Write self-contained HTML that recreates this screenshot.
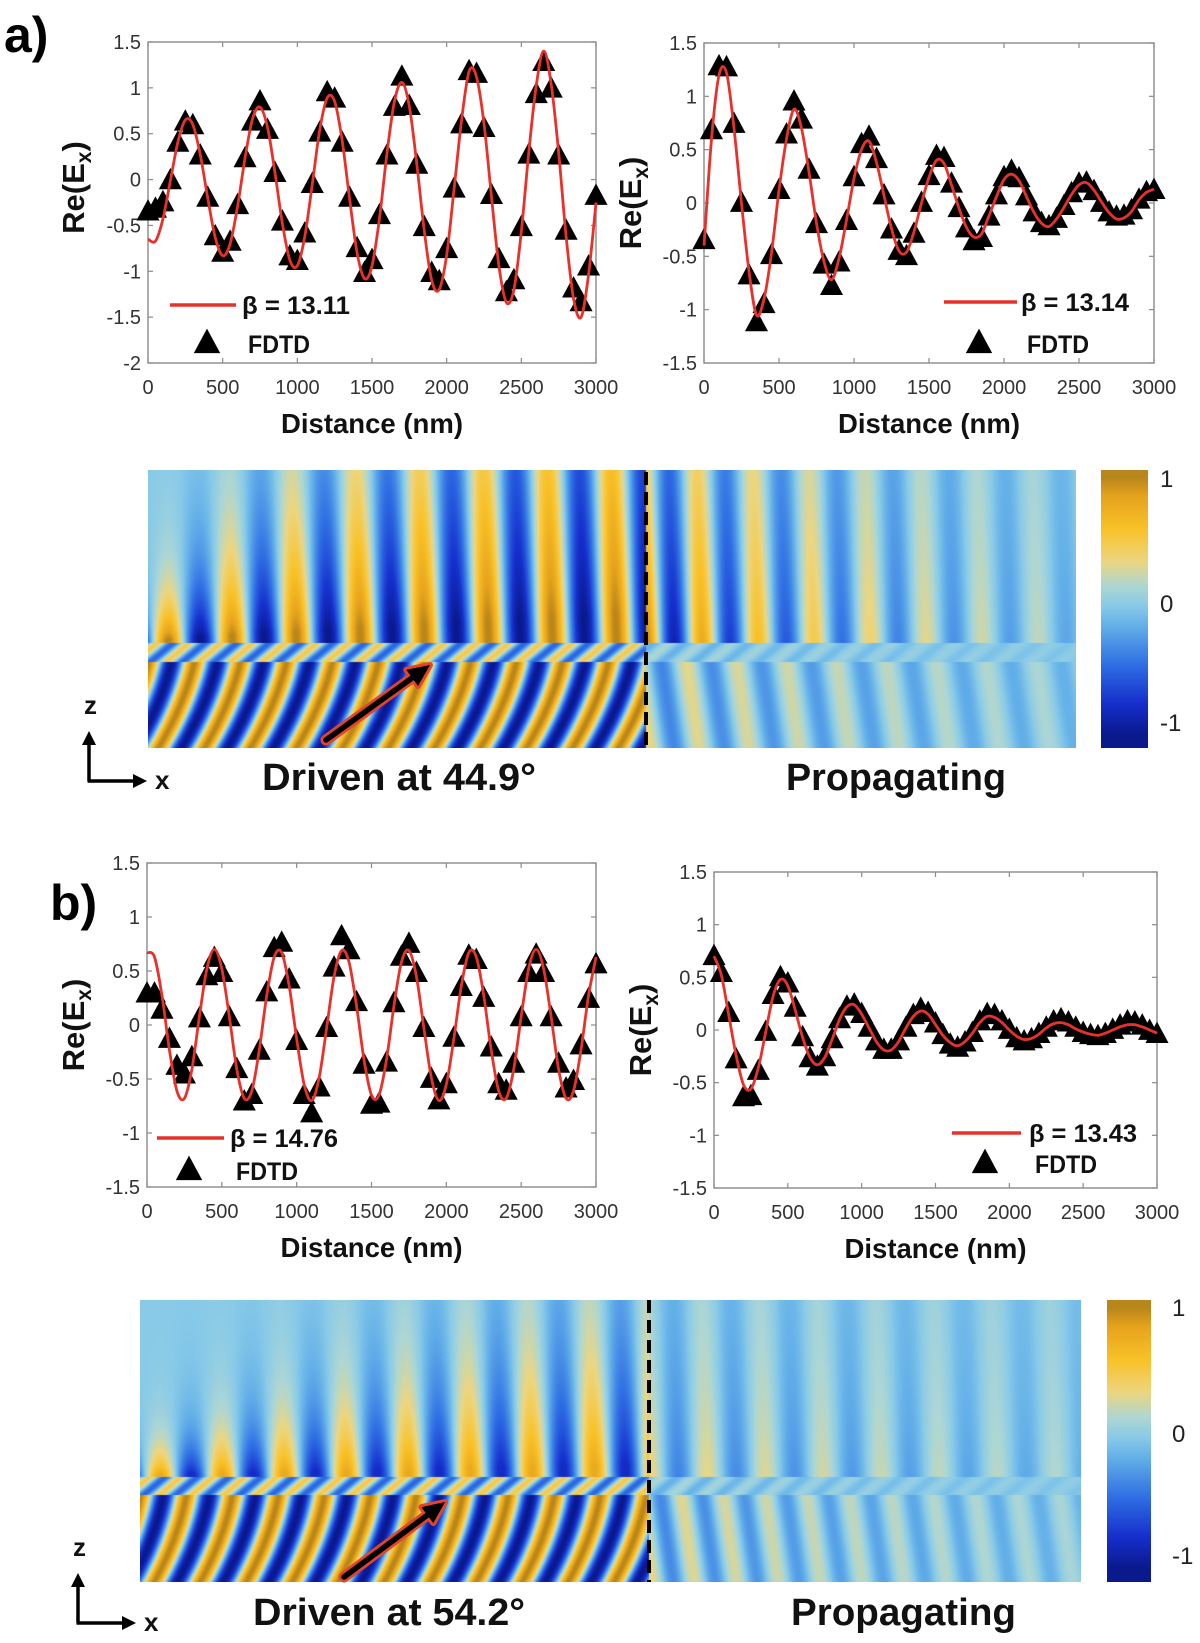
<!DOCTYPE html>
<html><head><meta charset="utf-8"><title>Re(Ex) fits and field maps</title>
<style>
html,body{margin:0;padding:0;background:#fff;}
#stage{position:relative;width:1200px;height:1643px;overflow:hidden;background:#fff;}
canvas{position:absolute;}
svg{position:absolute;left:0;top:0;}
</style></head>
<body>
<div id="stage">
<canvas id="heatA" style="left:148px;top:470px" width="928" height="278"></canvas>
<canvas id="cbarA" style="left:1101px;top:470px" width="47" height="278"></canvas>
<canvas id="heatB" style="left:140px;top:1300px" width="941" height="282"></canvas>
<canvas id="cbarB" style="left:1107px;top:1300px" width="44" height="282"></canvas>
<svg id="svg" width="1200" height="1643" xmlns="http://www.w3.org/2000/svg">
 <text x="4" y="52" font-family="Liberation Sans Narrow, Liberation Sans, sans-serif" font-weight="bold" font-size="50">a)</text>
 <text x="50" y="920" font-family="Liberation Sans Narrow, Liberation Sans, sans-serif" font-weight="bold" font-size="50">b)</text>
</svg>
</div>
<script>
// ---------- shared data ----------
const distances = [0,50,100,150,200,250,300,350,400,450,500,550,600,650,700,750,800,850,900,950,1000,1050,1100,1150,1200,1250,1300,1350,1400,1450,1500,1550,1600,1650,1700,1750,1800,1850,1900,1950,2000,2050,2100,2150,2200,2250,2300,2350,2400,2450,2500,2550,2600,2650,2700,2750,2800,2850,2900,2950,3000];
const xTickValues = [0,500,1000,1500,2000,2500,3000];
const xTickLabels = ['0','500','1000','1500','2000','2500','3000'];
const yTickValuesA = [1.5,1,0.5,0,-0.5,-1,-1.5,-2];
const yTickLabelsA = ['1.5','1','0.5','0','-0.5','-1','-1.5','-2'];
const yTickValuesB = [1.5,1,0.5,0,-0.5,-1,-1.5];
const yTickLabelsB = ['1.5','1','0.5','0','-0.5','-1','-1.5'];

const aLeftFit = [-0.65,-0.67,-0.43,-0.01,0.41,0.65,0.60,0.27,-0.20,-0.63,
 -0.83,-0.70,-0.29,0.24,0.66,0.79,0.57,0.08,-0.48,-0.88,
 -0.94,-0.62,-0.05,0.54,0.89,0.85,0.43,-0.21,-0.80,-1.08,
 -0.94,-0.42,0.28,0.85,1.06,0.80,0.17,-0.56,-1.10,-1.20,
 -0.82,-0.10,0.65,1.18,1.12,0.61,-0.19,-0.94,-1.34,-1.20,
 -0.57,0.30,1.03,1.40,1.04,0.29,-0.62,-1.30,-1.50,-1.04,-0.25];
const aLeftFdtd = [-0.35,-0.32,-0.25,-0.01,0.40,0.63,0.59,0.26,-0.20,-0.62,
 -0.80,-0.68,-0.28,0.23,0.63,0.85,0.54,0.07,-0.46,-0.84,
 -0.89,-0.59,-0.05,0.51,0.95,0.88,0.40,-0.20,-0.75,-1.02,
 -0.88,-0.39,0.26,0.79,1.12,0.80,0.16,-0.52,-1.02,-1.11,
 -0.76,-0.10,0.60,1.18,1.15,0.56,-0.17,-0.87,-1.23,-1.10,
 -0.52,0.27,0.93,1.28,0.99,0.26,-0.56,-1.19,-1.34,-0.95,-0.18];
const aRightFit = [-0.40,0.60,1.20,1.22,0.70,0.00,-0.64,-1.05,-0.90,-0.47,
 0.12,0.60,0.88,0.70,0.29,-0.19,-0.55,-0.72,-0.52,-0.16,
 0.23,0.50,0.58,0.38,0.07,-0.24,-0.45,-0.46,-0.27,0.00,
 0.24,0.40,0.37,0.17,-0.05,-0.23,-0.32,-0.29,-0.12,0.06,
 0.22,0.27,0.21,0.06,-0.09,-0.19,-0.22,-0.15,-0.04,0.08,
 0.17,0.19,0.12,0.01,-0.09,-0.15,-0.14,-0.08,0.03,0.10,0.13];
const aRightFdtd = [-0.35,0.68,1.28,1.27,0.74,0.00,-0.68,-1.12,-0.95,-0.49,
 0.12,0.64,0.95,0.78,0.31,-0.20,-0.58,-0.78,-0.56,-0.17,
 0.24,0.55,0.62,0.41,0.07,-0.25,-0.45,-0.50,-0.29,0.00,
 0.25,0.44,0.42,0.18,-0.05,-0.24,-0.36,-0.33,-0.13,0.07,
 0.24,0.30,0.23,0.06,-0.09,-0.19,-0.22,-0.15,-0.03,0.09,
 0.18,0.19,0.11,0.00,-0.09,-0.13,-0.12,-0.07,0.03,0.10,0.12];
const bLeftFit = [0.67,0.63,0.27,-0.23,-0.61,-0.68,-0.41,0.08,0.52,0.70,
 0.52,0.08,-0.41,-0.68,-0.61,-0.23,0.27,0.63,0.67,0.36,
 -0.13,-0.55,-0.70,-0.49,-0.03,0.45,0.69,0.58,0.18,-0.32,
 -0.65,-0.65,-0.32,0.18,0.58,0.69,0.45,-0.03,-0.49,-0.70,
 -0.55,-0.13,0.36,0.67,0.63,0.27,-0.23,-0.61,-0.68,-0.41,
 0.08,0.52,0.70,0.52,0.08,-0.41,-0.68,-0.61,-0.23,0.27,0.63];
const bLeftFdtd = [0.29,0.29,0.14,-0.13,-0.38,-0.46,-0.30,0.06,0.45,0.62,
 0.48,0.07,-0.41,-0.71,-0.65,-0.24,0.30,0.71,0.76,0.42,
 -0.15,-0.65,-0.82,-0.58,-0.03,0.53,0.82,0.69,0.21,-0.37,
 -0.74,-0.73,-0.35,0.20,0.63,0.75,0.48,-0.03,-0.50,-0.70,
 -0.55,-0.12,0.35,0.64,0.60,0.25,-0.21,-0.55,-0.61,-0.36,
 0.07,0.48,0.65,0.48,0.07,-0.36,-0.59,-0.52,-0.19,0.24,0.56];
const bRightFit = [0.70,0.52,0.14,-0.24,-0.52,-0.56,-0.36,-0.02,0.32,0.48,
 0.42,0.19,-0.07,-0.26,-0.33,-0.26,-0.09,0.10,0.22,0.24,
 0.15,0.02,-0.11,-0.19,-0.19,-0.11,0.02,0.13,0.18,0.15,
 0.05,-0.05,-0.12,-0.15,-0.11,-0.03,0.07,0.13,0.12,0.07,
 0.00,-0.06,-0.09,-0.08,-0.04,0.02,0.06,0.07,0.05,0.01,
 -0.02,-0.04,-0.05,-0.03,0.00,0.03,0.05,0.05,0.03,0.00,-0.03];
const bRightFdtd = [0.70,0.54,0.16,-0.28,-0.64,-0.63,-0.39,-0.02,0.33,0.50,
 0.44,0.21,-0.07,-0.27,-0.35,-0.26,-0.09,0.10,0.22,0.24,
 0.15,0.02,-0.11,-0.19,-0.19,-0.11,0.02,0.14,0.20,0.16,
 0.06,-0.05,-0.14,-0.17,-0.12,-0.03,0.08,0.15,0.14,0.08,
 0.00,-0.08,-0.11,-0.09,-0.04,0.02,0.08,0.10,0.07,0.02,
 -0.03,-0.05,-0.06,-0.04,0.00,0.04,0.08,0.07,0.04,-0.01,-0.04];

// heatmap parameters (stripe periods in px, region amplitudes)
const heatAPeriods = [64,56,46,50];
const heatAAmps = [1.0,0.95,1.0,0.32];
const heatBPeriods = [62,58,46,42];
const heatBAmps = [0.8,0.35,1.0,0.3];

const NS='http://www.w3.org/2000/svg';
const svg=document.getElementById('svg');
function mk(tag,attrs,parent){const e=document.createElementNS(NS,tag);for(const k in attrs)e.setAttribute(k,attrs[k]);(parent||svg).appendChild(e);return e;}
const NARROW='Liberation Sans Narrow, Liberation Sans, sans-serif';

function smoothPath(pts){
  let d='M'+pts[0][0].toFixed(1)+','+pts[0][1].toFixed(1);
  for(let i=0;i<pts.length-1;i++){
    const p0=pts[Math.max(0,i-1)],p1=pts[i],p2=pts[i+1],p3=pts[Math.min(pts.length-1,i+2)];
    const c1x=p1[0]+(p2[0]-p0[0])/6,c1y=p1[1]+(p2[1]-p0[1])/6;
    const c2x=p2[0]-(p3[0]-p1[0])/6,c2y=p2[1]-(p3[1]-p1[1])/6;
    d+=' C'+c1x.toFixed(1)+','+c1y.toFixed(1)+' '+c2x.toFixed(1)+','+c2y.toFixed(1)+' '+p2[0].toFixed(1)+','+p2[1].toFixed(1);
  }
  return d;
}
function tri(g,cx,cy,s){return mk('polygon',{points:`${cx},${cy-s*0.6} ${cx-s*0.55},${cy+s*0.42} ${cx+s*0.55},${cy+s*0.42}`,fill:'#000'},g);}

function plot(c){
  const g=mk('g',{});
  
  
  const sx=v=>c.x0+(v-0)/(3000-0)*(c.x1-c.x0);
  const sy=v=>c.yBot-(v-c.yMin)/(c.yMax-c.yMin)*(c.yBot-c.yTop);
  const box=mk('rect',{x:c.x0,y:c.yTop,width:c.x1-c.x0,height:c.yBot-c.yTop,fill:'#fff',stroke:'#8a8a8a','stroke-width':1.4},g);
  
  
  xTickValues.forEach((v,i)=>{
    const x=sx(v);
    mk('line',{x1:x,y1:c.yBot,x2:x,y2:c.yBot-5,stroke:'#8a8a8a','stroke-width':1.2},g);
    mk('line',{x1:x,y1:c.yTop,x2:x,y2:c.yTop+5,stroke:'#8a8a8a','stroke-width':1.2},g);
    const t=mk('text',{x:x,y:c.yBot+31,'text-anchor':'middle','font-family':'Liberation Sans, sans-serif','font-size':20,fill:'#333'},g);
    t.textContent=xTickLabels[i];
    
    
  });
  c.yTicks.forEach((v,i)=>{
    const y=sy(v);
    mk('line',{x1:c.x0,y1:y,x2:c.x0+5,y2:y,stroke:'#8a8a8a','stroke-width':1.2},g);
    mk('line',{x1:c.x1,y1:y,x2:c.x1-5,y2:y,stroke:'#8a8a8a','stroke-width':1.2},g);
    const t=mk('text',{x:c.x0-7,y:y+7,'text-anchor':'end','font-family':'Liberation Sans, sans-serif','font-size':20,fill:'#333'},g);
    t.textContent=c.yLabels[i];
    
    
  });
  const mg=mk('g',{},g);
  
  
  distances.forEach((d,i)=>{
    const p=tri(mg,sx(d),sy(c.fdtd[i]),21);
    
    
  });
  const pts=distances.map((d,i)=>[sx(d),sy(c.fit[i])]);
  const line=mk('path',{d:smoothPath(pts),fill:'none',stroke:'#e8312a','stroke-width':2.8},g);
  
  
  const xt=mk('text',{x:(c.x0+c.x1)/2,y:c.yBot+70,'text-anchor':'middle','font-family':NARROW,'font-weight':'bold','font-size':28,fill:'#111',textLength:182,lengthAdjust:'spacingAndGlyphs'},g);
  xt.textContent='Distance (nm)';
  
  
  const yc=(c.yTop+c.yBot)/2-(c.yLabelShift||0);
  const yt=mk('text',{x:0,y:0,'text-anchor':'middle','font-family':NARROW,'font-weight':'bold','font-size':31,fill:'#111',transform:`translate(${c.ylx+11},${yc}) rotate(-90)`},g);
  
  
  const t1=mk('tspan',{},yt);t1.textContent='Re(E';
  const t2=mk('tspan',{'font-size':21,dy:7},yt);t2.textContent='x';
  const t3=mk('tspan',{dy:-7},yt);t3.textContent=')';
  const lg=mk('g',{},g);
  
  
  mk('line',{x1:c.lx1,y1:c.ly1,x2:c.lx2,y2:c.ly1,stroke:'#e8312a','stroke-width':3.5},lg);
  const lt=mk('text',{x:c.ltx,y:c.ly1+9,'font-family':NARROW,'font-weight':'bold','font-size':25,fill:'#111',textLength:108,lengthAdjust:'spacingAndGlyphs'},lg);
  lt.textContent=c.beta;
  
  
  tri(lg,c.tx,c.ly2,24);
  const ft=mk('text',{x:c.ltx+6,y:c.ly2+10,'font-family':NARROW,'font-weight':'bold','font-size':25,fill:'#111',textLength:62,lengthAdjust:'spacingAndGlyphs'},lg);
  ft.textContent='FDTD';
  
  
}

plot({name:'plot-a-left',x0:148,x1:596,yTop:42,yBot:363,yMin:-2,yMax:1.5,yTicks:yTickValuesA,yLabels:yTickLabelsA,fit:aLeftFit,fdtd:aLeftFdtd,ylx:73,lx1:170,lx2:236,ly1:305,ltx:242,tx:207,ly2:343,beta:'β = 13.11',yLabelShift:15});
plot({name:'plot-a-right',x0:704,x1:1154,yTop:43,yBot:363,yMin:-1.5,yMax:1.5,yTicks:yTickValuesB,yLabels:yTickLabelsB,fit:aRightFit,fdtd:aRightFdtd,ylx:630,lx1:944,lx2:1017,ly1:302,ltx:1021,tx:979,ly2:343,beta:'β = 13.14',yLabelShift:0});
plot({name:'plot-b-left',x0:147,x1:596,yTop:863,yBot:1187,yMin:-1.5,yMax:1.5,yTicks:yTickValuesB,yLabels:yTickLabelsB,fit:bLeftFit,fdtd:bLeftFdtd,ylx:73,lx1:157,lx2:224,ly1:1138,ltx:230,tx:189,ly2:1170,beta:'β = 14.76',yLabelShift:0});
plot({name:'plot-b-right',x0:714,x1:1157,yTop:872,yBot:1188,yMin:-1.5,yMax:1.5,yTicks:yTickValuesB,yLabels:yTickLabelsB,fit:bRightFit,fdtd:bRightFdtd,ylx:640,lx1:952,lx2:1021,ly1:1133,ltx:1029,tx:985,ly2:1163,beta:'β = 13.43',yLabelShift:0});

// ---------- colormap ----------
const cmapStops=[[-1,[10,25,140]],[-0.75,[22,48,205]],[-0.45,[48,112,228]],[-0.15,[100,176,232]],[0,[136,202,232]],[0.15,[172,214,214]],[0.35,[236,214,128]],[0.6,[250,194,40]],[0.85,[230,164,30]],[1,[184,134,26]]];
function cmap(v){
  v=Math.max(-1,Math.min(1,v));
  for(let i=0;i<cmapStops.length-1;i++){
    const a=cmapStops[i],b=cmapStops[i+1];
    if(v<=b[0]){const t=(v-a[0])/(b[0]-a[0]);return [0,1,2].map(j=>a[1][j]+(b[1][j]-a[1][j])*t);}
  }
  return cmapStops[cmapStops.length-1][1];
}
function paint(id,f){
  const cv=document.getElementById(id),ctx=cv.getContext('2d');
  const W=cv.width,H=cv.height,img=ctx.createImageData(W,H);
  for(let y=0;y<H;y++)for(let x=0;x<W;x++){
    const c=cmap(f(x,y,W,H)),o=(y*W+x)*4;
    img.data[o]=c[0];img.data[o+1]=c[1];img.data[o+2]=c[2];img.data[o+3]=255;
  }
  ctx.putImageData(img,0,0);
}
const TAU=Math.PI*2;
function makeField(P,A,iy,iy2,dx,upDecay,rightDecay,lean){
  return function(x,y){
    if(y<iy){
      const d=iy-y;
      if(x<dx){const amp=Math.min(1,1.1*Math.exp(-d/(upDecay[0]+upDecay[1]*x)));return A[0]*amp*Math.cos(TAU*(x+0.03*d-20)/P[0]);}
      const amp=A[1]*Math.exp(-(x-dx)/rightDecay)*Math.exp(-d/upDecay[2])+0.04;
      return amp*Math.cos(TAU*(x-dx+0.03*d)/P[1]);
    }
    if(y<iy2){
      const amp=x<dx?0.5:0.15*Math.exp(-(x-dx)/300);
      return amp*Math.sin(TAU*(x+1.2*(y-iy))/32);
    }
    const u=y-iy2;
    if(x<dx){return A[2]*Math.cos(TAU*(x+lean*u+0.002*u*u)/P[2]);}
    const amp=A[3]*Math.exp(-(x-dx)/380)+0.04;
    return amp*Math.cos(TAU*(x-dx-0.15*u+10)/P[3]);
  };
}
paint('heatA',makeField(heatAPeriods,heatAAmps,173,192,498,[35,0.6,260],230,0.25));
paint('heatB',makeField(heatBPeriods,heatBAmps,177,195,509,[25,0.22,160],420,0.2));
function cbar(id){
  const cv=document.getElementById(id),ctx=cv.getContext('2d');
  for(let y=0;y<cv.height;y++){
    const v=1.05-2.15*y/cv.height;const c=cmap(v);
    ctx.fillStyle=`rgb(${c[0]|0},${c[1]|0},${c[2]|0})`;ctx.fillRect(0,y,cv.width,1);
  }
}
cbar('cbarA');cbar('cbarB');

// ---------- overlays ----------
function overlay(o){
  const g=mk('g',{});
  
  
  const dl=mk('line',{x1:o.dash,y1:o.top,x2:o.dash,y2:o.bot,stroke:'#000','stroke-width':4,'stroke-dasharray':'13,7'},g);
  
  
  const [ax1,ay1,ax2,ay2]=o.arrow;
  const ang=Math.atan2(ay2-ay1,ax2-ax1),hl=22,hw=10;
  const bx=ax2-hl*Math.cos(ang),by=ay2-hl*Math.sin(ang);
  const hp=`${ax2},${ay2} ${bx+hw*Math.sin(ang)},${by-hw*Math.cos(ang)} ${bx-hw*Math.sin(ang)},${by+hw*Math.cos(ang)}`;
  const ag=mk('g',{},g);
  
  
  mk('line',{x1:ax1,y1:ay1,x2:bx,y2:by,stroke:'#e2452a','stroke-width':11,'stroke-linecap':'round'},ag);
  mk('polygon',{points:hp,fill:'#e2452a',stroke:'#e2452a','stroke-width':6,'stroke-linejoin':'round'},ag);
  mk('line',{x1:ax1,y1:ay1,x2:bx,y2:by,stroke:'#000','stroke-width':5.5,'stroke-linecap':'round'},ag);
  mk('polygon',{points:hp,fill:'#000'},ag);
  o.cb.forEach((c,i)=>{
    const t=mk('text',{x:o.cbx,y:c+9,'font-family':NARROW,'font-size':24,fill:'#222'},g);
    t.textContent=['1','0','-1'][i];
    
    
  });
  const xg=mk('g',{},g);
  
  
  const [ox,oy]=o.origin;
  mk('line',{x1:ox,y1:oy,x2:ox,y2:oy-38,stroke:'#000','stroke-width':3.5},xg);
  mk('polygon',{points:`${ox},${oy-50} ${ox-7},${oy-36} ${ox+7},${oy-36}`,fill:'#000'},xg);
  mk('line',{x1:ox-1.5,y1:oy,x2:ox+46,y2:oy,stroke:'#000','stroke-width':3.5},xg);
  mk('polygon',{points:`${ox+58},${oy} ${ox+44},${oy-7} ${ox+44},${oy+7}`,fill:'#000'},xg);
  const zt=mk('text',{x:ox-5,y:oy-67,'font-family':NARROW,'font-weight':'bold','font-size':26,fill:'#111'},xg);zt.textContent='z';
  
  
  const xl=mk('text',{x:ox+66,y:oy+8,'font-family':NARROW,'font-weight':'bold','font-size':26,fill:'#111'},xg);xl.textContent='x';
  
  
  const d1=mk('text',{x:o.t1[0],y:o.ty,'font-family':NARROW,'font-weight':'bold','font-size':38,fill:'#111',textLength:o.t1[1],lengthAdjust:'spacingAndGlyphs'},g);
  d1.textContent=o.driven;
  
  
  const d2=mk('text',{x:o.t2[0],y:o.ty,'font-family':NARROW,'font-weight':'bold','font-size':38,fill:'#111',textLength:o.t2[1],lengthAdjust:'spacingAndGlyphs'},g);
  d2.textContent='Propagating';
  
  
}
overlay({name:'field-overlay-a',dash:646,top:472,bot:748,arrow:[326,740,430,665],cb:[478,603,722],cbx:1160,origin:[89,781],t1:[262,274],t2:[786,220],ty:790,driven:'Driven at 44.9°'});
overlay({name:'field-overlay-b',dash:649,top:1300,bot:1582,arrow:[344,1577,445,1502],cb:[1307,1433,1555],cbx:1172,origin:[78,1623],t1:[253,272],t2:[791,225],ty:1625,driven:'Driven at 54.2°'});
</script>
</body></html>
